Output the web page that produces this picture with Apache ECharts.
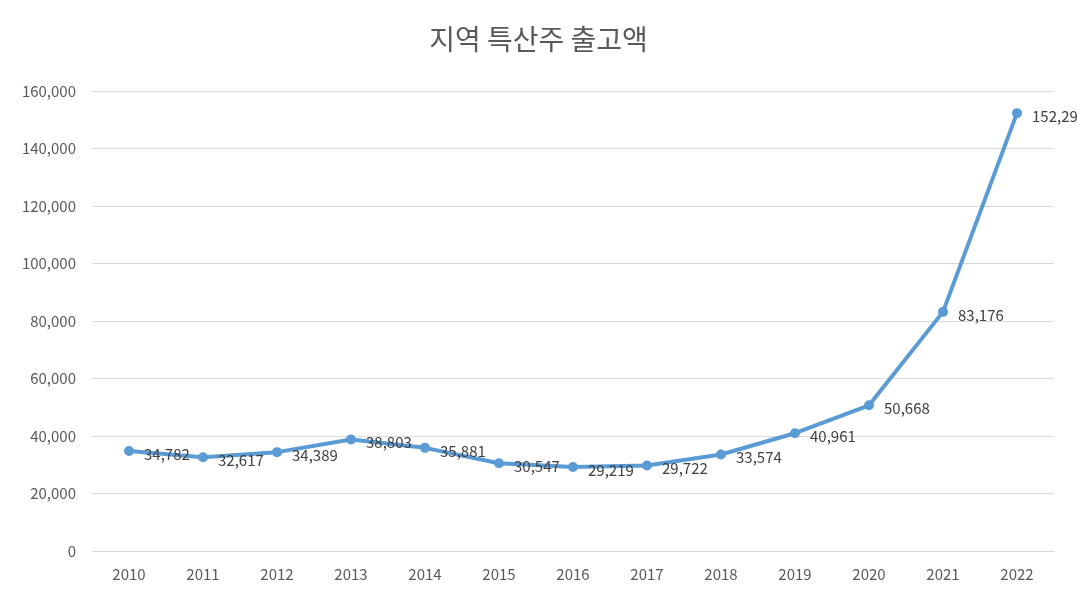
<!DOCTYPE html>
<html><head><meta charset="utf-8">
<script src="https://cdn.jsdelivr.net/npm/echarts@6/dist/echarts.min.js"></script>
<style>html,body{margin:0;padding:0;background:#fff}#c{width:1077px;height:600px}</style>
</head><body><div id="c"></div>
<script>
const years = ['2010','2011','2012','2013','2014','2015','2016','2017','2018','2019','2020','2021','2022'];
const values = [34782,32617,34389,38803,35881,30547,29219,29722,33574,40961,50668,83176,152296];
const title = '지역 특산주 출고액';
const chart = echarts.init(document.getElementById('c'));
chart.setOption({
  animation:false,
  textStyle:{fontFamily:'"Noto Sans CJK KR","Noto Sans",sans-serif'},
  title:{text:title,left:'center',top:20,textStyle:{fontSize:28,fontWeight:'normal',color:'#595959',fontFamily:'"Noto Sans CJK KR",sans-serif'}},
  grid:{left:92,right:23,top:91,bottom:49},
  xAxis:{type:'category',data:years,boundaryGap:true,
    axisLine:{lineStyle:{color:'#d9d9d9'}},axisTick:{show:false},
    axisLabel:{color:'#595959',fontSize:15,margin:16}},
  yAxis:{type:'value',min:0,max:160000,interval:20000,
    axisLine:{show:false},axisTick:{show:false},
    splitLine:{lineStyle:{color:'#d9d9d9'}},
    axisLabel:{color:'#595959',fontSize:15,margin:16,formatter:v=>v.toLocaleString('en-US')}},
  series:[{type:'line',data:values,symbol:'circle',symbolSize:10,
    lineStyle:{color:'#5b9bd5',width:4},itemStyle:{color:'#5b9bd5'},
    label:{show:true,position:'right',distance:10,offset:[0,3],color:'#404040',fontSize:15,
      formatter:p=>p.value.toLocaleString('en-US')}}]
});
</script></body></html>
